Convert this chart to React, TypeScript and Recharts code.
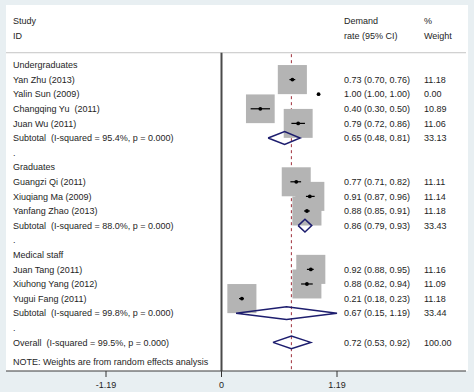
import React from 'react';
import { ComposedChart, Scatter, XAxis, YAxis, ReferenceLine } from 'recharts';

// ---------- data ----------
const rowLabels = [
  'Undergraduates',
  'Yan Zhu (2013)',
  'Yalin Sun (2009)',
  'Changqing Yu  (2011)',
  'Juan Wu (2011)',
  'Subtotal  (I-squared = 95.4%, p = 0.000)',
  '.',
  'Graduates',
  'Guangzi Qi (2011)',
  'Xiuqiang Ma (2009)',
  'Yanfang Zhao (2013)',
  'Subtotal  (I-squared = 88.0%, p = 0.000)',
  '.',
  'Medical staff',
  'Juan Tang (2011)',
  'Xiuhong Yang (2012)',
  'Yugui Fang (2011)',
  'Subtotal  (I-squared = 99.8%, p = 0.000)',
  '.',
  'Overall  (I-squared = 99.5%, p = 0.000)',
];

const studyRows = [1, 2, 3, 4, 8, 9, 10, 14, 15, 16];
const studyEst = [0.73, 1.0, 0.4, 0.79, 0.77, 0.91, 0.88, 0.92, 0.88, 0.21];
const studyLo = [0.7, 1.0, 0.3, 0.72, 0.71, 0.87, 0.85, 0.88, 0.82, 0.18];
const studyHi = [0.76, 1.0, 0.5, 0.86, 0.82, 0.96, 0.91, 0.95, 0.94, 0.23];
const studyWeight = [11.18, 0.0, 10.89, 11.06, 11.11, 11.14, 11.18, 11.16, 11.09, 11.18];

const poolRows = [5, 11, 17, 19];
const poolEst = [0.65, 0.86, 0.67, 0.72];
const poolLo = [0.48, 0.79, 0.15, 0.53];
const poolHi = [0.81, 0.93, 1.19, 0.92];
const poolWeight = [33.13, 33.43, 33.44, 100.0];

const headerStudy = ['Study', 'ID'];
const headerRate = ['Demand', 'rate (95% CI)'];
const headerWeight = ['%', 'Weight'];
const noteText = 'NOTE: Weights are from random effects analysis';
const xTicks = [-1.19, 0, 1.19];

// ---------- layout / style ----------
const W = 474;
const H = 392;
const FONT = '"Liberation Sans", Arial, Helvetica, sans-serif';
const FS = 9;
const TEXT = '#1e1e1e';
const NAVY = '#1d1d6e';
const BOX = '#b4b4b4';
const BG = '#e8eff2';
const X_DOMAIN: [number, number] = [-2.2203, 2.519];
const Y_DOMAIN: [number, number] = [-4.04, 20.96];
const HEAD_ROWS = [-3, -2];
const NOTE_ROW = 20.35;
const DIVIDER_ROW = -0.84;
const BOX_K = 8.7;
const DIAMOND_HALF = 0.44;

const overallEst = poolEst[poolEst.length - 1];

const studies = studyRows.map((r, i) => ({
  x: studyEst[i],
  y: r,
  w: studyWeight[i],
}));

const ciSegments = studyRows.map((r, i) => [
  { x: studyLo[i], y: r },
  { x: studyHi[i], y: r },
]);

const diamonds = poolRows.map((r, i) => [
  { x: poolLo[i], y: r },
  { x: poolEst[i], y: r - DIAMOND_HALF },
  { x: poolHi[i], y: r },
  { x: poolEst[i], y: r + DIAMOND_HALF },
  { x: poolLo[i], y: r },
]);

const fmt = (v: number) => v.toFixed(2);

const rightText: Record<string, [string, string]> = {};
HEAD_ROWS.forEach((r, i) => {
  rightText[String(r)] = [headerRate[i], headerWeight[i]];
});
studyRows.forEach((r, i) => {
  rightText[String(r)] = [
    `${fmt(studyEst[i])} (${fmt(studyLo[i])}, ${fmt(studyHi[i])})`,
    fmt(studyWeight[i]),
  ];
});
poolRows.forEach((r, i) => {
  rightText[String(r)] = [
    `${fmt(poolEst[i])} (${fmt(poolLo[i])}, ${fmt(poolHi[i])})`,
    fmt(poolWeight[i]),
  ];
});

const leftTicks = [...HEAD_ROWS, ...rowLabels.map((_, i) => i), NOTE_ROW];
const rightTicks = [...HEAD_ROWS, ...studyRows, ...poolRows].sort((a, b) => a - b);

const textStyle: React.CSSProperties = { whiteSpace: 'pre' };

const renderLeftTick = (props: any) => {
  const { x, y, payload } = props;
  const v = payload.value;
  let label = '';
  const hi = HEAD_ROWS.indexOf(v);
  if (hi >= 0) label = headerStudy[hi];
  else if (v === NOTE_ROW) label = noteText;
  else label = rowLabels[v] ?? '';
  return (
    <text key={`l${v}`} x={x + 7} y={y} dy={3.3} fontSize={FS} fontFamily={FONT} fill={TEXT} textAnchor="start" style={textStyle}>
      {label}
    </text>
  );
};

const renderRightTick = (props: any) => {
  const { x, y, payload } = props;
  const t = rightText[String(payload.value)];
  if (!t) return <g key={`r${payload.value}`} />;
  return (
    <g key={`r${payload.value}`}>
      <text x={x - 122} y={y} dy={3.3} fontSize={FS} fontFamily={FONT} fill={TEXT} textAnchor="start" style={textStyle}>
        {t[0]}
      </text>
      <text x={x - 42} y={y} dy={3.3} fontSize={FS} fontFamily={FONT} fill={TEXT} textAnchor="start" style={textStyle}>
        {t[1]}
      </text>
    </g>
  );
};

const renderXTick = (props: any) => {
  const { x, y, payload } = props;
  return (
    <text key={`x${payload.value}`} x={x} y={y + 11} fontSize={FS} fontFamily={FONT} fill={TEXT} textAnchor="middle">
      {String(payload.value)}
    </text>
  );
};

const BoxShape = (props: any) => {
  const { cx, cy, payload } = props;
  const s = BOX_K * Math.sqrt(payload.w);
  if (!s) return <g />;
  return <rect x={cx - s / 2} y={cy - s / 2} width={s} height={s} fill={BOX} />;
};

const DotShape = (props: any) => {
  const { cx, cy } = props;
  return <circle cx={cx} cy={cy} r={1.9} fill="#000" />;
};

const NoShape = () => <g />;

export default function App() {
  return (
    <div style={{ position: 'absolute', left: 0, top: 0, width: W, height: H, background: BG }}>
      <div style={{ position: 'absolute', left: 6, top: 5, width: 462, height: 366, background: '#ffffff' }} />
      <div style={{ position: 'absolute', left: 0, top: 0 }}>
        <ComposedChart width={W} height={H} margin={{ top: 6, right: 7, bottom: 0, left: 5 }}>
          <XAxis
            type="number"
            dataKey="x"
            domain={X_DOMAIN}
            allowDataOverflow
            ticks={xTicks}
            interval={0}
            height={21}
            tickSize={6}
            tickMargin={0}
            tickLine={{ stroke: '#333333', strokeWidth: 1 }}
            axisLine={{ stroke: '#3a3a3a', strokeWidth: 1 }}
            tick={renderXTick}
          />
          <YAxis
            yAxisId="L"
            type="number"
            dataKey="y"
            domain={Y_DOMAIN}
            allowDataOverflow
            reversed
            width={1}
            ticks={leftTicks}
            interval={0}
            tickSize={0}
            tickMargin={0}
            axisLine={false}
            tickLine={false}
            tick={renderLeftTick}
          />
          <YAxis
            yAxisId="R"
            orientation="right"
            type="number"
            dataKey="y"
            domain={Y_DOMAIN}
            allowDataOverflow
            reversed
            width={1}
            ticks={rightTicks}
            interval={0}
            tickSize={0}
            tickMargin={0}
            axisLine={false}
            tickLine={false}
            tick={renderRightTick}
          />
          <ReferenceLine yAxisId="L" y={DIVIDER_ROW} stroke="#c4c4c4" strokeWidth={1} />
          <Scatter yAxisId="L" data={studies} shape={<BoxShape />} isAnimationActive={false} />
          <ReferenceLine
            yAxisId="L"
            segment={[
              { x: 0, y: DIVIDER_ROW },
              { x: 0, y: Y_DOMAIN[1] },
            ]}
            stroke="#4a4a4a"
            strokeWidth={2}
          />
          <ReferenceLine
            yAxisId="L"
            segment={[
              { x: overallEst, y: DIVIDER_ROW + 0.1 },
              { x: overallEst, y: Y_DOMAIN[1] },
            ]}
            stroke="#a0303c"
            strokeWidth={1}
            strokeDasharray="3 3"
          />
          {ciSegments.map((d, i) => (
            <Scatter
              key={`ci${i}`}
              yAxisId="L"
              data={d}
              line={{ stroke: '#000000', strokeWidth: 1.2 }}
              lineType="joint"
              shape={<NoShape />}
              isAnimationActive={false}
            />
          ))}
          <Scatter yAxisId="L" data={studies} shape={<DotShape />} isAnimationActive={false} />
          {diamonds.map((d, i) => (
            <Scatter
              key={`d${i}`}
              yAxisId="L"
              data={d}
              line={{ stroke: NAVY, strokeWidth: 1.5 }}
              lineType="joint"
              shape={<NoShape />}
              isAnimationActive={false}
            />
          ))}
        </ComposedChart>
      </div>
    </div>
  );
}
